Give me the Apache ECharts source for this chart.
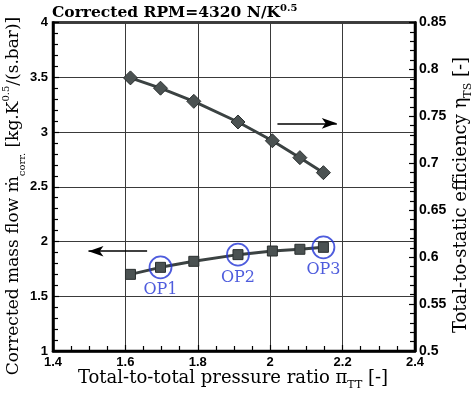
<!DOCTYPE html>
<html>
<head>
<meta charset="utf-8">
<script src="https://cdn.jsdelivr.net/npm/echarts@6/dist/echarts.min.js"></script>
<style>html,body{margin:0;padding:0;background:#fff}#c{width:474px;height:393px}</style>
</head>
<body>
<div id="c"></div>
<script>
var pressureRatio = [1.614, 1.697, 1.789, 1.911, 2.006, 2.082, 2.147];
var massFlow = [1.700, 1.764, 1.819, 1.880, 1.913, 1.929, 1.947];
var efficiency = [0.791, 0.780, 0.766, 0.744, 0.724, 0.706, 0.690];
var opIndex = [1, 3, 6];
var opLabels = ['OP1', 'OP2', 'OP3'];
var xTicks = [1.4, 1.6, 1.8, 2.0, 2.2, 2.4];
var leftTicks = [1, 1.5, 2, 2.5, 3, 3.5, 4];
var rightTicks = [0.5, 0.55, 0.6, 0.65, 0.7, 0.75, 0.8, 0.85];
// arrows: [x0, y0, x1, y1] in left-axis data units
var arrowSegments = [[2.020, 3.079, 2.184, 3.079], [1.660, 1.911, 1.498, 1.911]];

var SERIF = '"DejaVu Serif", "Liberation Serif", serif';
var SANS = '"Liberation Sans", Arial, sans-serif';

var chart = echarts.init(document.getElementById('c'), null, {renderer: 'canvas'});

var massData = pressureRatio.map(function (x, i) { return [x, massFlow[i]]; });
var effData = pressureRatio.map(function (x, i) { return [x, efficiency[i]]; });
var opData = opIndex.map(function (k, j) { return {value: [pressureRatio[k], massFlow[k]], name: opLabels[j]}; });

var axisLbl = {color: '#000', fontFamily: SANS, fontWeight: 'bold', fontSize: 13};

chart.setOption({
  animation: false,
  grid: {left: 53, right: 59, top: 22.5, bottom: 42, show: true, borderColor: '#000', borderWidth: 2.5, backgroundColor: 'transparent'},
  xAxis: {
    type: 'value', min: xTicks[0], max: xTicks[xTicks.length - 1], interval: 0.2,
    axisLine: {show: true, onZero: false, lineStyle: {color: '#000', width: 2.5}},
    axisTick: {show: true, inside: true, length: 6, lineStyle: {color: '#000', width: 1.2}},
    minorTick: {show: true, splitNumber: 4, length: 5, lineStyle: {color: '#000', width: 1.2}},
    splitLine: {show: true, lineStyle: {color: '#3a3a3a', width: 1}},
    axisLabel: Object.assign({}, axisLbl, {margin: 5, formatter: function (v) { return String(+v.toFixed(1)); }})
  },
  yAxis: [{
    type: 'value', min: leftTicks[0], max: leftTicks[leftTicks.length - 1], interval: 0.5, position: 'left',
    axisLine: {show: true, onZero: false, lineStyle: {color: '#000', width: 2.5}},
    axisTick: {show: true, inside: true, length: 6, lineStyle: {color: '#000', width: 1.2}},
    minorTick: {show: true, splitNumber: 5, length: 5, lineStyle: {color: '#000', width: 1.2}},
    splitLine: {show: true, lineStyle: {color: '#3a3a3a', width: 1}},
    axisLabel: Object.assign({}, axisLbl, {margin: 5, formatter: function (v) { return String(+v.toFixed(1)); }})
  }, {
    type: 'value', min: rightTicks[0], max: rightTicks[rightTicks.length - 1], interval: 0.05, position: 'right',
    axisLine: {show: true, onZero: false, lineStyle: {color: '#000', width: 2.5}},
    axisTick: {show: true, inside: true, length: 6, lineStyle: {color: '#000', width: 1.2}},
    minorTick: {show: true, splitNumber: 5, length: 5, lineStyle: {color: '#000', width: 1.2}},
    splitLine: {show: false},
    axisLabel: Object.assign({}, axisLbl, {fontSize: 14, margin: 4, formatter: function (v) { return String(+v.toFixed(2)); }})
  }],
  series: [{
    type: 'line', yAxisIndex: 0, data: massData,
    symbol: 'rect', symbolSize: 10,
    lineStyle: {color: '#3b4242', width: 3},
    itemStyle: {color: '#4b5252', borderColor: '#2a2f2f', borderWidth: 1},
    z: 3,
    markLine: {
      silent: true, symbol: ['none', 'arrow'], symbolSize: [8, 15],
      label: {show: false},
      lineStyle: {color: '#000', width: 1.6, type: 'solid'},
      data: arrowSegments.map(function (s) { return [{coord: [s[0], s[1]]}, {coord: [s[2], s[3]]}]; })
    }
  }, {
    type: 'line', yAxisIndex: 1, data: effData,
    symbol: 'diamond', symbolSize: 14,
    lineStyle: {color: '#3b4242', width: 3},
    itemStyle: {color: '#4b5252', borderColor: '#2a2f2f', borderWidth: 1},
    z: 3
  }, {
    type: 'scatter', yAxisIndex: 0, data: opData,
    symbol: 'circle', symbolSize: 22,
    itemStyle: {color: 'rgba(0,0,0,0)', borderColor: '#2233d4', borderWidth: 1.8},
    label: {show: true, position: 'bottom', distance: 3, formatter: '{b}', color: '#2233d4', fontFamily: SERIF, fontSize: 16},
    z: 4
  }],
  graphic: [{
    type: 'text', x: 52, y: 12,
    style: {
      text: '{a|Corrected RPM=4320 N/K}{s|0.5}',
      textVerticalAlign: 'middle',
      rich: {
        a: {fontFamily: SERIF, fontWeight: 'bold', fontSize: 15.5, color: '#000', lineHeight: 18, verticalAlign: 'bottom'},
        s: {fontFamily: SERIF, fontWeight: 'bold', fontSize: 10, color: '#000', lineHeight: 18, verticalAlign: 'top'}
      }
    }
  }, {
    type: 'text', x: 233, y: 378,
    style: {
      text: '{a|Total-to-total pressure ratio π}{b|TT}{a| [-]}',
      textAlign: 'center', textVerticalAlign: 'middle',
      rich: {
        a: {fontFamily: SERIF, fontSize: 18, color: '#000', lineHeight: 26, verticalAlign: 'middle'},
        b: {fontFamily: SERIF, fontSize: 11, color: '#000', lineHeight: 26, verticalAlign: 'bottom'}
      }
    }
  }, {
    type: 'text', x: 14, y: 196, rotation: Math.PI / 2,
    style: {
      text: '{a|Corrected mass flow ṁ}{b|corr.}{a| [kg.K}{s|0.5}{a|/(s.bar)]}',
      textAlign: 'center', textVerticalAlign: 'middle',
      rich: {
        a: {fontFamily: SERIF, fontSize: 17, color: '#000', lineHeight: 26, verticalAlign: 'middle'},
        b: {fontFamily: SERIF, fontSize: 10, color: '#000', lineHeight: 26, verticalAlign: 'bottom'},
        s: {fontFamily: SERIF, fontSize: 10, color: '#000', lineHeight: 26, verticalAlign: 'top'}
      }
    }
  }, {
    type: 'text', x: 461, y: 195, rotation: Math.PI / 2,
    style: {
      text: '{a|Total-to-static efficiency η}{b|TS}{a| [-]}',
      textAlign: 'center', textVerticalAlign: 'middle',
      rich: {
        a: {fontFamily: SERIF, fontSize: 18, color: '#000', lineHeight: 26, verticalAlign: 'middle'},
        b: {fontFamily: SERIF, fontSize: 11, color: '#000', lineHeight: 26, verticalAlign: 'bottom'}
      }
    }
  }]
});
</script>
</body>
</html>
